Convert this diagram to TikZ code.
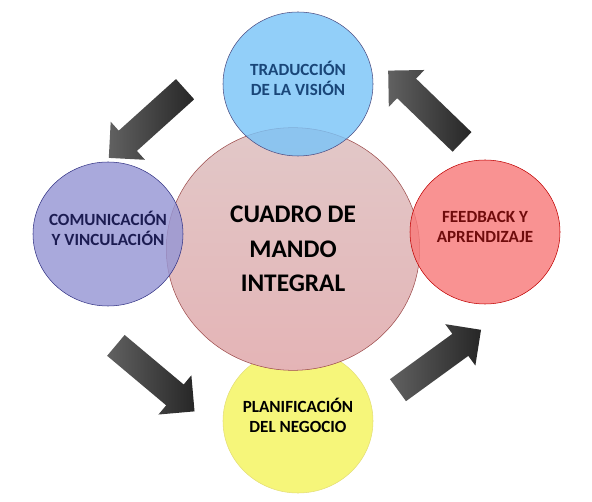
\documentclass[tikz,border=0pt]{standalone}
\usepackage{fontspec}
\setmainfont{Carlito}
\usepackage{xcolor}
\usepackage{tikz}
\usetikzlibrary{shapes.geometric, shapes.arrows, positioning}

\definecolor{visionfill}{RGB}{122,196,248}
\definecolor{visiontext}{RGB}{25,70,120}
\definecolor{commfill}{RGB}{150,150,212}
\definecolor{commtext}{RGB}{28,28,82}
\definecolor{feedfill}{RGB}{248,122,122}
\definecolor{feedtext}{RGB}{112,12,12}
\definecolor{planfill}{RGB}{246,246,122}
\definecolor{cmitop}{RGB}{226,200,200}
\definecolor{cmibottom}{RGB}{228,180,182}

\begin{document}
\begin{tikzpicture}[
  x=0.75pt, y=-0.75pt,
  disk/.style={ellipse, draw, minimum width=112.5pt, minimum height=108pt, inner sep=0pt},
  disktext/.style={align=center, yshift=4pt, font=\bfseries\fontsize{12.8}{15}\selectfont},
  bigdisk/.style={ellipse, draw=red!45!black!70, minimum width=190pt, minimum height=182pt,
    inner sep=0pt, top color=cmitop, bottom color=cmibottom},
  bigtext/.style={align=center, font=\bfseries\fontsize{19}{26}\selectfont},
  seethrough/.style={fill opacity=0.82, text opacity=1},
  turn/.style={single arrow, draw=none, minimum height=77pt, inner xsep=0pt, inner ysep=10pt,
    single arrow head extend=9pt, single arrow tip angle=90,
    left color=black!62, right color=black!85},
]
  \useasboundingbox (0,0) rectangle (592,502);

  % ring of block arrows
  \node[turn, rotate=222] (toComm) at (152,119) {};
  \node[turn, rotate=136] (toVision) at (430,111) {};
  \node[turn, rotate=-40] (toPlan) at (150,374) {};
  \node[turn, rotate=36] (toFeed) at (434,364) {};

  % outer stages and the central disk
  \node[disk, fill=planfill, draw=yellow!80!black!60,
    label={[disktext]center:PLANIFICACIÓN\\DEL NEGOCIO}] (plan) at (298,421) {};
  \node[bigdisk, label={[bigtext]center:CUADRO DE\\MANDO\\INTEGRAL}] (cmi) at (293,249) {};
  \node[disk, seethrough, fill=visionfill, draw=blue!30!black!70,
    label={[disktext, text=visiontext]center:TRADUCCIÓN\\DE LA VISIÓN}] (vision) at (298,84) {};
  \node[disk, seethrough, fill=commfill, draw=blue!40!black!80,
    label={[disktext, text=commtext]center:COMUNICACIÓN\\Y VINCULACIÓN}] (comm) at (108,234) {};
  \node[disk, seethrough, fill=feedfill, draw=red!75!black,
    label={[disktext, text=feedtext]center:FEEDBACK Y\\APRENDIZAJE}] (feed) at (485,232) {};
\end{tikzpicture}
\end{document}
